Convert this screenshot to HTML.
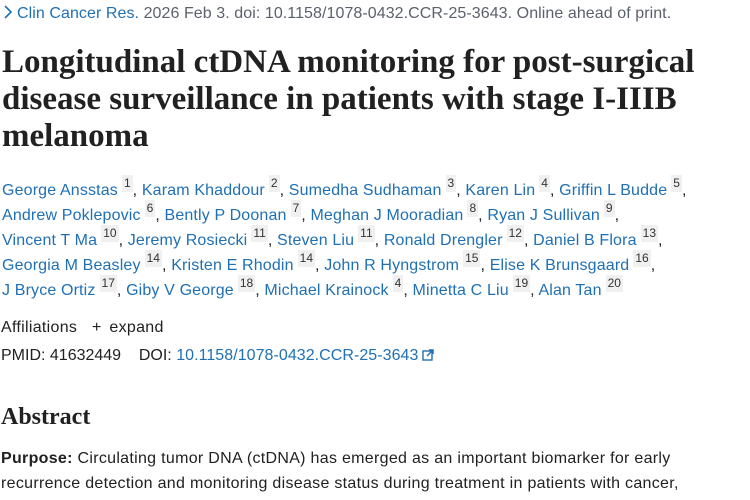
<!DOCTYPE html>
<html><head><meta charset="utf-8">
<style>
html,body{margin:0;padding:0;background:#fff;width:750px;height:500px;overflow:hidden;}
body{position:relative;font-family:"Liberation Sans",sans-serif;color:#212121;}
.l{position:absolute;white-space:nowrap;left:0;}
.s{font-size:16px;line-height:25px;}
.au{letter-spacing:0.15px;}
a{color:#2070b4;text-decoration:none;}
.g{color:#5b616b;}
.t{font-family:"Liberation Serif",serif;font-weight:bold;font-size:33px;line-height:37px;color:#212121;}
sup{display:inline-block;font-size:12px;line-height:17px;background:#f0f0f0;color:#333;padding:0 2px;margin-left:4px;vertical-align:top;position:relative;top:-3px;letter-spacing:0;}
.h{font-family:"Liberation Serif",serif;font-weight:bold;font-size:24px;}
.ab{letter-spacing:0.3px;}
</style></head><body>

<div class="l s" style="top:1px;left:3px;letter-spacing:0.07px;">
<svg width="10" height="14" style="vertical-align:-1px;margin-right:4px"><polyline points="2,1 8,7 2,13" fill="none" stroke="#2070b4" stroke-width="1.6"/></svg><a>Clin Cancer Res.</a> <span class="g">2026 Feb 3. doi: 10.1158/1078-0432.CCR-25-3643. Online ahead of print.</span>
</div>

<div class="l t" style="top:44px;left:2px;">Longitudinal ctDNA monitoring for post-surgical</div>
<div class="l t" style="top:81px;left:2px;">disease surveillance in patients with stage I-IIIB</div>
<div class="l t" style="top:118px;left:2px;">melanoma</div>

<div class="l s au" style="top:178px;left:2px;"><a>George Ansstas</a><sup>1</sup>, <a>Karam Khaddour</a><sup>2</sup>, <a>Sumedha Sudhaman</a><sup>3</sup>, <a>Karen Lin</a><sup>4</sup>, <a>Griffin L Budde</a><sup>5</sup>,</div>
<div class="l s au" style="top:203px;left:2px;"><a>Andrew Poklepovic</a><sup>6</sup>, <a>Bently P Doonan</a><sup>7</sup>, <a>Meghan J Mooradian</a><sup>8</sup>, <a>Ryan J Sullivan</a><sup>9</sup>,</div>
<div class="l s au" style="top:228px;left:2px;"><a>Vincent T Ma</a><sup>10</sup>, <a>Jeremy Rosiecki</a><sup>11</sup>, <a>Steven Liu</a><sup>11</sup>, <a>Ronald Drengler</a><sup>12</sup>, <a>Daniel B Flora</a><sup>13</sup>,</div>
<div class="l s au" style="top:253px;left:2px;"><a>Georgia M Beasley</a><sup>14</sup>, <a>Kristen E Rhodin</a><sup>14</sup>, <a>John R Hyngstrom</a><sup>15</sup>, <a>Elise K Brunsgaard</a><sup>16</sup>,</div>
<div class="l s au" style="top:278px;left:2px;"><a>J Bryce Ortiz</a><sup>17</sup>, <a>Giby V George</a><sup>18</sup>, <a>Michael Krainock</a><sup>4</sup>, <a>Minetta C Liu</a><sup>19</sup>, <a>Alan Tan</a><sup>20</sup></div>

<div class="l s" style="top:315px;left:1px;letter-spacing:0.3px;">Affiliations <span style="margin-left:10px;">+</span> <span style="margin-left:3px">expand</span></div>
<div class="l s" style="top:343px;left:1px;">PMID: 41632449 &nbsp;&nbsp;&nbsp;DOI: <a style="letter-spacing:0.05px">10.1158/1078-0432.CCR-25-3643</a><svg width="12" height="12" style="margin-left:4px;vertical-align:-1px"><rect x="1" y="2" width="9" height="9" fill="none" stroke="#2070b4" stroke-width="1.4"/><polyline points="5,7 11,1" stroke="#2070b4" stroke-width="1.4"/><polyline points="7,1 11,1 11,5" fill="none" stroke="#2070b4" stroke-width="1.4"/></svg></div>

<div class="l h" style="top:404px;left:1px;">Abstract</div>

<div class="l s ab" style="top:446px;left:1px;"><b>Purpose:</b> Circulating tumor DNA (ctDNA) has emerged as an important biomarker for early</div>
<div class="l s ab" style="top:471px;left:1px;">recurrence detection and monitoring disease status during treatment in patients with cancer,</div>

</body></html>
